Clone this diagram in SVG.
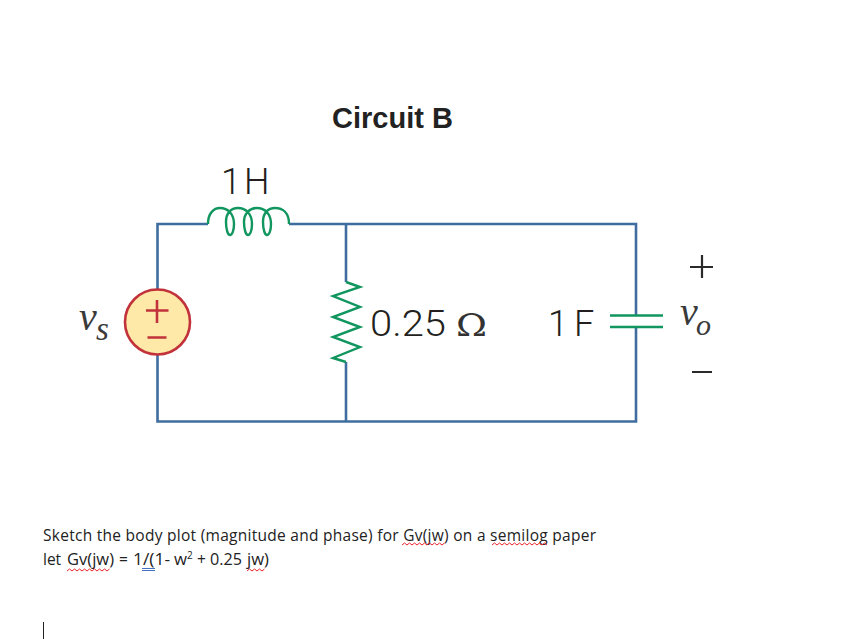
<svg xmlns="http://www.w3.org/2000/svg" width="846" height="639" viewBox="0 0 846 639">
<style>
.wire{fill:none;stroke:#3f6d9f;stroke-width:2.6}
.part{fill:none;stroke:#12965f;stroke-width:2.4}
.lab{font-family:Roboto,"Liberation Sans",Arial,sans-serif;font-weight:300;font-size:36px;fill:#231f20}
.math{font-family:"Liberation Serif","Times New Roman",serif;font-style:italic;fill:#3a3a3a}
.doc{font-family:"Open Sans","Noto Sans",sans-serif;font-size:15.5px;fill:#222}
.sup{font-family:"Open Sans","Noto Sans",sans-serif;font-size:10px;fill:#222}
.sq{fill:none;stroke:#e8262a;stroke-width:1}
.mk{fill:none;stroke:#2a2a2a;stroke-width:2.2}
</style>
<rect width="846" height="639" fill="#fff"/>
<g id="connectors">
<path class="wire" d="M208 224H157.500V290M157.500 354V421.500H636V327M636 315.500V224H289M346 224V282M346 362V421.500"/>
</g>
<g id="source">
<circle cx="157.500" cy="322" r="32.500" fill="#ffe9a8" stroke="#c1323a" stroke-width="2.600"/>
<path d="M146 310.500H168.500M157 300V323M147.500 337.500H166.500" fill="none" stroke="#c1323a" stroke-width="2.600"/>
<text class="math" x="79" y="330" font-size="40">v</text>
<text class="math" x="96" y="340" font-size="33">s</text>
</g>
<g id="inductor">
<path class="part" d="M208 224C208 213 214 208 220 208C228 208 234 214 234 224C234 231 232 235 230 235C228 235 226 230 226 222C226 213 231 208 238 208C246 208 252 214 252 224C252 231 250 235 248 235C246 235 244 230 244 222C244 213 250 208 257 208C265 208 271 214 271 224C271 231 269 235 267 235C265 235 263 230 263 222C263 213 268 208 275 208C283 208 289 213 289 224"/>
<text class="lab" x="221" y="194">1</text>
<text class="lab" x="244" y="194">H</text>
</g>
<g id="resistor">
<path class="part" d="M346 282L360 287L333 296L360 307L333 317L360 327L333 337L360 347L333 358L346 362"/>
<text class="lab" x="370" y="336" textLength="76" lengthAdjust="spacingAndGlyphs">0.25</text>
<text x="456" y="336" font-family="DejaVu Serif,Liberation Serif,serif" font-size="32" fill="#333" textLength="31" lengthAdjust="spacingAndGlyphs">Ω</text>
</g>
<g id="capacitor">
<path class="part" d="M610 315.500H663M610 327H663"/>
<text class="lab" x="548" y="336">1</text>
<text class="lab" x="574" y="336">F</text>
</g>
<g id="output">
<path class="mk" d="M690 267H713M702 255V278M692 372H712"/>
<text class="math" x="680" y="325" font-size="40">v</text>
<text class="math" x="696" y="335" font-size="30">o</text>
</g>
<g id="title">
<text x="332" y="128" font-family="Liberation Sans,Arial,sans-serif" font-size="29" font-weight="700" fill="#222">Circuit B</text>
</g>
<g id="problem">
<text class="doc" x="43" y="541" textLength="553">Sketch the body plot (magnitude and phase) for Gv(jw) on a semilog paper</text>
<text class="doc" x="43" y="565">let</text>
<text class="doc" x="67" y="565" textLength="47" lengthAdjust="spacingAndGlyphs">Gv(jw)</text>
<text class="doc" x="119" y="565">=</text>
<text class="doc" x="133" y="565" textLength="37" lengthAdjust="spacingAndGlyphs">1/(1-</text>
<text class="doc" x="174" y="565" textLength="13" lengthAdjust="spacingAndGlyphs">w</text>
<text class="sup" x="187" y="559">2</text>
<text class="doc" x="197" y="565">+</text>
<text class="doc" x="210" y="565" textLength="32" lengthAdjust="spacingAndGlyphs">0.25</text>
<text class="doc" x="247" y="565" textLength="22" lengthAdjust="spacingAndGlyphs">jw)</text>
<path class="sq" d="M402 545l2.500 -2 2.500 2 2.500 -2 2.500 2 2.500 -2 2.500 2 2.500 -2 2.500 2 2.500 -2 2.500 2 2.500 -2 2.500 2 2.500 -2 2.500 2 2.500 -2 2.500 2 2.500 -2M492 545l2.500 -2 2.500 2 2.500 -2 2.500 2 2.500 -2 2.500 2 2.500 -2 2.500 2 2.500 -2 2.500 2 2.500 -2 2.500 2 2.500 -2 2.500 2 2.500 -2 2.500 2 2.500 -2 2.500 2 2.500 -2 2.500 2 2.500 -2 2.500 2M67 571l2.500 -2 2.500 2 2.500 -2 2.500 2 2.500 -2 2.500 2 2.500 -2 2.500 2 2.500 -2 2.500 2 2.500 -2 2.500 2 2.500 -2 2.500 2 2.500 -2 2.500 2 2.500 -2M247 571l2.500 -2 2.500 2 2.500 -2 2.500 2 2.500 -2 2.500 2 2.500 -2"/>
<path d="M142 568.500H155M142 570.500H155" fill="none" stroke="#4472c4" stroke-width="1"/>
<path d="M43.500 622V639" fill="none" stroke="#222" stroke-width="1"/>
</g>
</svg>
